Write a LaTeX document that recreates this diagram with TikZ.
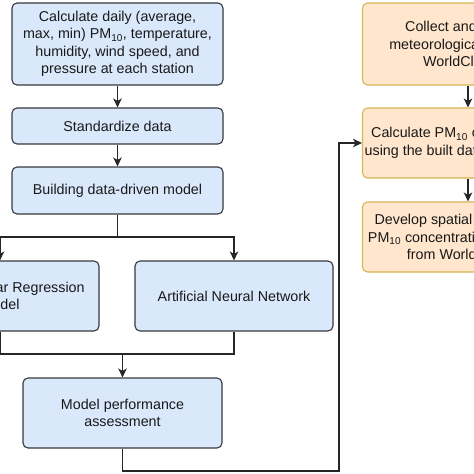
\documentclass[tikz,border=0pt]{standalone}
\usepackage{fontspec}
\setmainfont{Liberation Sans}
\usepackage{xcolor}
\usepackage{tikz}
\usetikzlibrary{arrows.meta}
\usetikzlibrary{calc}
\definecolor{boxblue}{HTML}{DAE8FC}
\definecolor{lineblue}{HTML}{36393D}
\definecolor{boxorange}{HTML}{FFE6CC}
\definecolor{lineorange}{HTML}{D6B656}
\tikzset{
	stepblue/.style={draw=lineblue, fill=boxblue, line width=1.1pt, rounded corners=5pt,
		inner sep=0pt, align=center, text=black!90,
		font=\fontsize{14.3}{17.5}\selectfont},
	steporange/.style={stepblue, draw=lineorange, fill=boxorange},
	flow/.style={-{Stealth[length=9pt,width=8.5pt,inset=2.5pt]}, line width=1.1pt, black!85},
	link/.style={line width=1.1pt, black!85}
}

\begin{document}
\begin{tikzpicture}[x=1pt,y=-1pt]

	\useasboundingbox (0,0) rectangle (474,474);
	\clip (0,0) rectangle (474,474);

	% left column
	\node[stepblue, minimum width=211pt, minimum height=82pt] (daily) at (117.5,44)
		{Calculate daily (average,\\ max, min) PM\textsubscript{10}, temperature,\\ humidity, wind speed, and\\ pressure at each station};
	\node[stepblue, minimum width=211pt, minimum height=36pt] (std) at (117.5,126) {Standardize data};
	\node[stepblue, minimum width=211pt, minimum height=47pt] (build) at (117.5,190.5) {Building data-driven model};

	\node[stepblue, minimum width=198pt, minimum height=70pt] (mlr) at (0,296) {Multiple Linear Regression\\ Model};
	\node[stepblue, minimum width=198pt, minimum height=70pt] (ann) at (234,296) {Artificial Neural Network};

	\node[stepblue, minimum width=199pt, minimum height=70pt] (perf) at (122.5,413) {Model performance\\ assessment};

	% right column
	\node[steporange, minimum width=211pt, minimum height=82pt] (collect) at (468,44)
		{Collect and process\\ meteorological data from\\ WorldClim 2.1};
	\node[steporange, minimum width=211pt, minimum height=70pt] (pm) at (468,143)
		{Calculate PM\textsubscript{10} concentrations\\ using the built data-driven model};
	\node[steporange, minimum width=211pt, minimum height=70pt] (spatial) at (468,237)
		{Develop spatial distribution of\\ PM\textsubscript{10} concentrations using data\\ from WorldClim 2.1};

	\coordinate (split) at (117.5,237);
	\coordinate (merge) at (122.5,354);
	\coordinate (back) at (339,471);

	\draw[flow] (daily) -- (std);
	\draw[flow] (std) -- (build);
	\draw[link] (build) -- (split);
	\draw[flow] (split) -| (mlr.north);
	\draw[flow] (split) -| (ann.north);
	\draw[link] (mlr.south) |- (merge) -| (ann.south);
	\draw[flow] (merge) -- (perf);
	\draw[flow] (perf.south) |- (back) |- (pm.west);

	\draw[flow] (collect) -- (pm);
	\draw[flow] (pm) -- (spatial);

\end{tikzpicture}
\end{document}
